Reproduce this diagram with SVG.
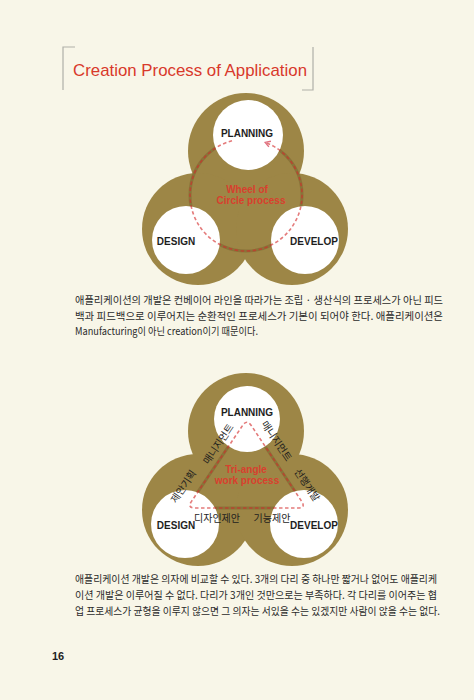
<svg xmlns="http://www.w3.org/2000/svg" width="474" height="700" viewBox="0 0 474 700">
<defs>
<style>
.bg{fill:#f8f6e8}
.lobe{fill:#9d8646}
.hole{fill:#ffffff}
.shadow{fill:none;stroke:#7a6530;stroke-width:3;stroke-opacity:0.55}
.dash{fill:none;stroke:#d42a2a;stroke-opacity:0.62;stroke-width:1.6;stroke-dasharray:3.5 2.5}
.lbl{font-family:"Liberation Sans","DejaVu Sans",sans-serif;font-weight:bold;font-size:10px;fill:#1e1e1e;text-anchor:middle}
.red{font-family:"Liberation Sans","DejaVu Sans",sans-serif;font-weight:bold;font-size:10px;fill:#d8402e;text-anchor:middle}
.kr{font-family:"Noto Sans CJK KR",sans-serif;font-size:10px;fill:#1e1e1e;text-anchor:middle}
.body{font-family:"Noto Sans CJK KR",sans-serif;font-size:10.5px;fill:#2a2a2a}
.bracket{fill:none;stroke:#b0b0a8;stroke-width:1.2}
</style>
<marker id="chev" viewBox="0 0 8 8" refX="6" refY="4" markerWidth="8" markerHeight="8" markerUnits="userSpaceOnUse" orient="auto">
<path d="M1,1 L6,4 L1,7" fill="none" stroke="#e07080" stroke-width="1.4"/>
</marker>
</defs>
<rect class="bg" x="0" y="0" width="474" height="700"/>

<g id="title">
<path class="bracket" d="M75,47 H63 V90"/>
<path class="bracket" d="M313,47 V90 H302"/>
<text x="73" y="76" font-family="Liberation Sans, DejaVu Sans, sans-serif" font-size="17" fill="#d8392b" textLength="234" lengthAdjust="spacingAndGlyphs">Creation Process of Application</text>
</g>

<!-- Diagram 1 -->
<g id="wheel-lobes">
<circle class="lobe" cx="246" cy="151" r="58"/>
<circle class="lobe" cx="198" cy="229" r="56"/>
<circle class="lobe" cx="292" cy="229" r="56"/>
<circle class="shadow" cx="246" cy="195" r="56"/>
</g>
<g id="planning1"><circle class="hole" cx="248" cy="135" r="35"/><text class="lbl" x="247" y="137">PLANNING</text></g>
<g id="design1"><circle class="hole" cx="186" cy="240" r="34"/><text class="lbl" x="176" y="245">DESIGN</text></g>
<g id="develop1"><circle class="hole" cx="305" cy="240" r="34"/><text class="lbl" x="314" y="245">DEVELOP</text></g>
<g id="wheel-connectors">
<path class="dash" d="M232,140.8 A56,56 0 1 0 265.2,142.4" marker-end="url(#chev)"/>
</g>
<g id="wheel-label">
<text class="red" x="247" y="193">Wheel of</text>
<text class="red" x="251" y="204">Circle process</text>
</g>

<g id="para1" class="body">
<text x="75" y="304" textLength="368" lengthAdjust="spacingAndGlyphs">애플리케이션의 개발은 컨베이어 라인을 따라가는 조립 · 생산식의 프로세스가 아닌 피드</text>
<text x="75" y="319.5" textLength="368" lengthAdjust="spacingAndGlyphs">백과 피드백으로 이루어지는 순환적인 프로세스가 기본이 되어야 한다. 애플리케이션은</text>
<text x="75" y="335" textLength="183" lengthAdjust="spacingAndGlyphs">Manufacturing이 아닌 creation이기 때문이다.</text>
</g>

<!-- Diagram 2 -->
<g id="tri-lobes">
<circle class="lobe" cx="246" cy="431" r="58"/>
<circle class="lobe" cx="198" cy="510" r="56"/>
<circle class="lobe" cx="292" cy="510" r="56"/>
<path class="shadow" d="M242.5,425.6 L191.5,501.4 Q187,508 195,508 L298,508 Q306,508 301.6,501.3 L251.4,425.7 Q247,419 242.5,425.6 Z"/>
</g>
<g id="planning2"><circle class="hole" cx="247" cy="419" r="33"/><text class="lbl" x="247" y="416">PLANNING</text></g>
<g id="design2"><circle class="hole" cx="185" cy="524" r="34"/><text class="lbl" x="176" y="529">DESIGN</text></g>
<g id="develop2"><circle class="hole" cx="304" cy="524" r="34"/><text class="lbl" x="314" y="529">DEVELOP</text></g>
<g id="tri-connectors">
<path class="dash" d="M242.5,425.6 L191.5,501.4 Q187,508 195,508 L298,508 Q306,508 301.6,501.3 L251.4,425.7 Q247,419 242.5,425.6 Z"/>
</g>
<g id="tri-labels">
<text class="kr" transform="translate(218.5,444) rotate(-56)" y="3.5">매니지먼트</text>
<text class="kr" transform="translate(276.5,441) rotate(56)" y="3.5">매니지먼트</text>
<text class="kr" transform="translate(183.5,486.5) rotate(-56)" y="3.5">제안기획</text>
<text class="kr" transform="translate(307,485) rotate(56)" y="3.5">선행개발</text>
<text class="kr" x="217" y="522">디자인제안</text>
<text class="kr" x="272" y="522">기능제안</text>
<text class="red" x="246" y="473">Tri-angle</text>
<text class="red" x="247" y="484">work process</text>
</g>

<g id="para2" class="body">
<text x="75" y="583" textLength="362" lengthAdjust="spacingAndGlyphs">애플리케이션 개발은 의자에 비교할 수 있다. 3개의 다리 중 하나만 짧거나 없어도 애플리케</text>
<text x="75" y="599" textLength="362" lengthAdjust="spacingAndGlyphs">이션 개발은 이루어질 수 없다. 다리가 3개인 것만으로는 부족하다. 각 다리를 이어주는 협</text>
<text x="75" y="615" textLength="365" lengthAdjust="spacingAndGlyphs">업 프로세스가 균형을 이루지 않으면 그 의자는 서있을 수는 있겠지만 사람이 앉을 수는 없다.</text>
</g>

<g id="page">
<text x="52" y="660" font-family="Liberation Sans, DejaVu Sans, sans-serif" font-weight="bold" font-size="11" fill="#1e1e1e">16</text>
</g>
</svg>
